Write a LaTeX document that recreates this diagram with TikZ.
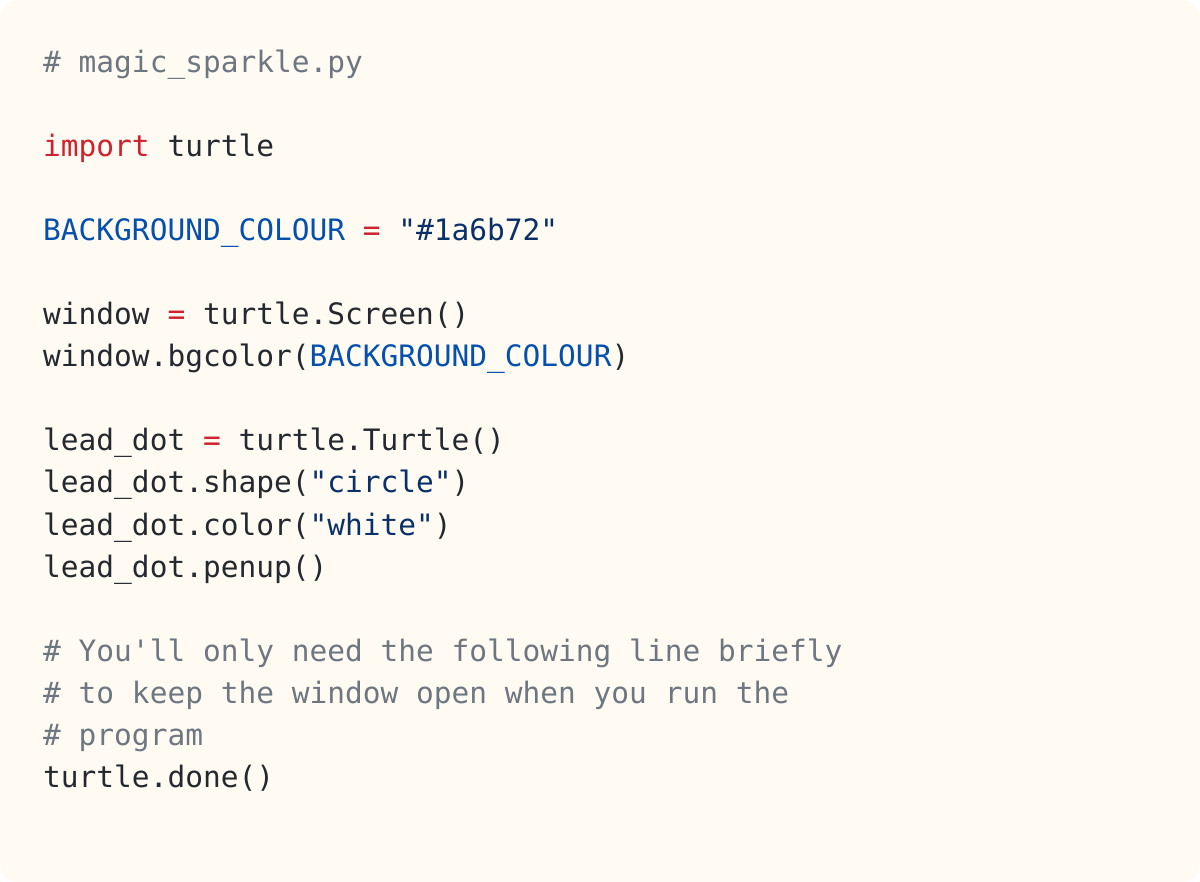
\documentclass[tikz,border=0pt]{standalone}
\usepackage{fontspec}
\newfontfamily\code{DejaVu Sans Mono}
\definecolor{bgc}{HTML}{FFFBF2}
\definecolor{cm}{HTML}{6E7781}
\definecolor{kw}{HTML}{CF222E}
\definecolor{cn}{HTML}{0550AE}
\definecolor{st}{HTML}{0A3069}
\definecolor{tx}{HTML}{24292F}
\begin{document}
\begin{tikzpicture}[x=1pt,y=-1pt,
  ln/.style={anchor=base west,inner sep=0pt,font=\code\fontsize{29.5}{35}\selectfont,text=tx}]
\useasboundingbox (0,0) rectangle (1200,882);
\fill[white] (0,0) rectangle (1200,882);
\fill[bgc,rounded corners=18pt] (0,0) rectangle (1200,882);
\node[ln] (l1) at (43,73) {\textcolor{cm}{\# magic\_sparkle.py}};
\node[ln] (l2) at (43,157) {\textcolor{kw}{import} turtle};
\node[ln] (l3) at (43,241) {\textcolor{cn}{BACKGROUND\_COLOUR} \textcolor{kw}{=} \textcolor{st}{"\#1a6b72"}};
\node[ln] (l4) at (43,325) {window \textcolor{kw}{=} turtle.Screen()};
\node[ln] (l5) at (43,367) {window.bgcolor(\textcolor{cn}{BACKGROUND\_COLOUR})};
\node[ln] (l6) at (43,451) {lead\_dot \textcolor{kw}{=} turtle.Turtle()};
\node[ln] (l7) at (43,493) {lead\_dot.shape(\textcolor{st}{"circle"})};
\node[ln] (l8) at (43,535) {lead\_dot.color(\textcolor{st}{"white"})};
\node[ln] (l9) at (43,577) {lead\_dot.penup()};
\node[ln] (l10) at (43,661) {\textcolor{cm}{\# You'll only need the following line briefly}};
\node[ln] (l11) at (43,703) {\textcolor{cm}{\# to keep the window open when you run the}};
\node[ln] (l12) at (43,745) {\textcolor{cm}{\# program}};
\node[ln] (l13) at (43,787) {turtle.done()};
\end{tikzpicture}
\end{document}
